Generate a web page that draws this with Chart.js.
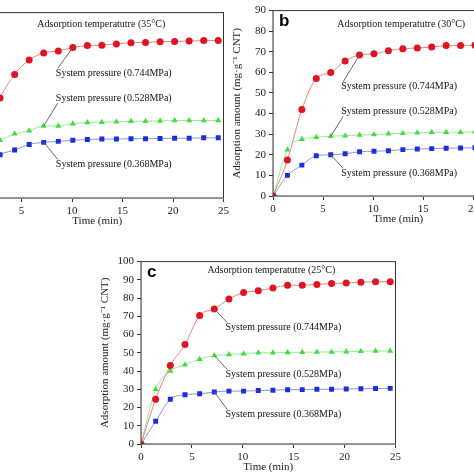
<!DOCTYPE html>
<html>
<head>
<meta charset="utf-8">
<script src="https://cdn.jsdelivr.net/npm/chart.js@4/dist/chart.umd.min.js"></script>
<style>
  body { margin: 0; width: 474px; height: 474px; overflow: hidden; position: relative; background: #fff; }
  .panel { position: absolute; }
</style>
</head>
<body>
<div class="panel" style="left:-71px;top:3px;width:303px;height:225px"><canvas id="chartA"></canvas></div>
<div class="panel" style="left:231px;top:1px;width:301px;height:225px"><canvas id="chartB"></canvas></div>
<div class="panel" style="left:99px;top:252px;width:305px;height:222px"><canvas id="chartC"></canvas></div>
<script>
// time points (min)
const times = [0, 1.44, 2.88, 4.32, 5.76, 7.2, 8.64, 10.08, 11.52, 12.96, 14.4, 15.84, 17.28, 18.72, 20.16, 21.6, 23.04, 24.48];
const seriesLabels = ['System pressure (0.744MPa)', 'System pressure (0.528MPa)', 'System pressure (0.368MPa)'];

// panel a: 35°C
const red35 = [0, 30, 48.5, 60, 67, 70.4, 71.4, 73, 74, 74.2, 74.8, 75.4, 75.5, 75.9, 76, 76.2, 76.4, 76.5];
const green35 = [0, 24, 28, 31.2, 32.6, 35, 35, 36, 36.7, 36.8, 37, 37.2, 37.3, 37.4, 37.6, 37.6, 37.6, 37.6];
const blue35 = [0, 15, 21, 23.3, 26, 27, 27.5, 28, 28.4, 28.6, 28.6, 28.8, 28.8, 28.9, 29, 29, 29.2, 29.2];
// panel b: 30°C
const red30 = [0, 17.5, 42, 57, 60, 65.5, 68.5, 69, 70.5, 71.5, 71.8, 72.3, 73, 73, 73.2, 73.3, 73.3, 73.4];
const green30 = [0, 22.5, 27.5, 28.5, 29, 29.3, 29.6, 29.8, 30.2, 30.5, 30.7, 30.9, 31, 31, 31.2, 31.3, 31.4, 31.5];
const blue30 = [0, 10, 15, 19.5, 20, 20.5, 21.5, 21.7, 22, 22.5, 22.8, 23, 23.2, 23.3, 23.4, 23.5, 23.6, 23.7];
// panel c: 25°C
const red25 = [0, 24.5, 43, 54.5, 70.5, 74, 79.5, 83, 84, 85.5, 87, 87, 87.5, 88, 88.3, 88.7, 89, 89];
const green25 = [0, 30, 40, 43.5, 46.5, 48.5, 49, 49.5, 50, 50, 50.2, 50.3, 50.4, 50.5, 50.6, 50.8, 51, 51];
const blue25 = [0, 12.5, 24.5, 27, 27.5, 28.5, 29, 29, 29.3, 29.5, 29.7, 29.8, 30, 30, 30.2, 30.3, 30.4, 30.5];

const FONT = 'Liberation Serif';

// annotation plugin: frame, panel letter, title, leader lines
const notes = {
  id: 'notes',
  afterDraw(chart) {
    const o = chart.options.plugins.notes;
    const { ctx, chartArea: a, scales: { x, y } } = chart;
    ctx.save();
    ctx.strokeStyle = '#333';
    ctx.lineWidth = 1;
    ctx.strokeRect(a.left, a.top, a.right - a.left, a.bottom - a.top);
    if (o.letter) {
      ctx.font = 'bold 17px Arial';
      ctx.fillStyle = '#000';
      ctx.textBaseline = 'top';
      ctx.fillText(o.letter, a.left + 6, a.top + 2);
    }
    ctx.font = '10px "' + FONT + '"';
    ctx.fillStyle = '#111';
    ctx.textBaseline = 'middle';
    ctx.textAlign = 'center';
    ctx.fillText(o.title[0], x.getPixelForValue(o.title[1]), y.getPixelForValue(o.title[2]));
    ctx.textAlign = 'left';
    o.labels.forEach((l, i) => {
      const tx = x.getPixelForValue(l.at[0]), ty = y.getPixelForValue(l.at[1]);
      ctx.fillText(seriesLabels[i], tx, ty);
      ctx.strokeStyle = '#666';
      ctx.beginPath();
      ctx.moveTo(x.getPixelForValue(l.from[0]), y.getPixelForValue(l.from[1]));
      ctx.lineTo(tx + 2, ty + (l.from[1] > l.at[1] ? -5 : 5));
      ctx.stroke();
    });
    ctx.restore();
  }
};

function makeChart(id, red, green, blue, yMax, note) {
  const mk = (data, color, fill, style) => ({
    data: times.map((t, i) => ({ x: t, y: data[i] })),
    borderColor: fill, backgroundColor: color, borderWidth: 1,
    pointStyle: style, pointRadius: 3.5, pointBorderWidth: 0,
    tension: 0.4, cubicInterpolationMode: 'monotone'
  });
  return new Chart(document.getElementById(id), {
    type: 'line',
    data: {
      datasets: [
        mk(red, '#e0141e', '#f08080', 'circle'),
        mk(green, '#3ee03a', '#9ae89a', 'triangle'),
        mk(blue, '#1b2fd8', '#8a96e8', 'rect')
      ]
    },
    options: {
      responsive: true,
      maintainAspectRatio: false,
      animation: false,
      layout: { padding: { top: 2, right: 4 } },
      scales: {
        x: {
          type: 'linear', min: 0, max: 25,
          ticks: { stepSize: 5, color: '#222', font: { family: FONT, size: 11 } },
          grid: { drawOnChartArea: false, tickLength: 4, color: '#333' },
          title: { display: true, text: 'Time (min)', color: '#222', padding: 0, font: { family: FONT, size: 11 } },
          afterFit: s => { s.height = 30; }
        },
        y: {
          min: 0, max: yMax,
          ticks: { stepSize: 10, color: '#222', font: { family: FONT, size: 11 } },
          grid: { drawOnChartArea: false, tickLength: 4, color: '#333' },
          title: { display: true, text: 'Adsorption amount (mg·g⁻¹ CNT)', color: '#222', padding: 0, font: { family: FONT, size: 11 } },
          afterFit: s => { s.width = 42; }
        }
      },
      plugins: { legend: { display: false }, tooltip: { enabled: false }, notes: note }
    },
    plugins: [notes]
  });
}

makeChart('chartA', red35, green35, blue35, 90, {
  letter: 'a', title: ['Adsorption temperatutre (35°C)', 12.9, 84.4],
  labels: [
    { at: [8.4, 60.6], from: [10.08, 73] },
    { at: [8.4, 48.5], from: [7.2, 35] },
    { at: [8.4, 16.3], from: [7.2, 27] }
  ]
});
makeChart('chartB', red30, green30, blue30, 90, {
  letter: 'b', title: ['Adsorption temperatutre (30°C)', 12.8, 83.5],
  labels: [
    { at: [6.8, 53], from: [8.64, 68.5] },
    { at: [6.8, 41], from: [5.76, 29] },
    { at: [6.8, 11], from: [5.76, 20] }
  ]
});
makeChart('chartC', red25, green25, blue25, 100, {
  letter: 'c', title: ['Adsorption temperatutre (25°C)', 12.8, 95],
  labels: [
    { at: [8.3, 63.7], from: [7.2, 74] },
    { at: [8.3, 38], from: [7.2, 48.5] },
    { at: [8.3, 16], from: [7.2, 28.5] }
  ]
});
</script>
</body>
</html>
